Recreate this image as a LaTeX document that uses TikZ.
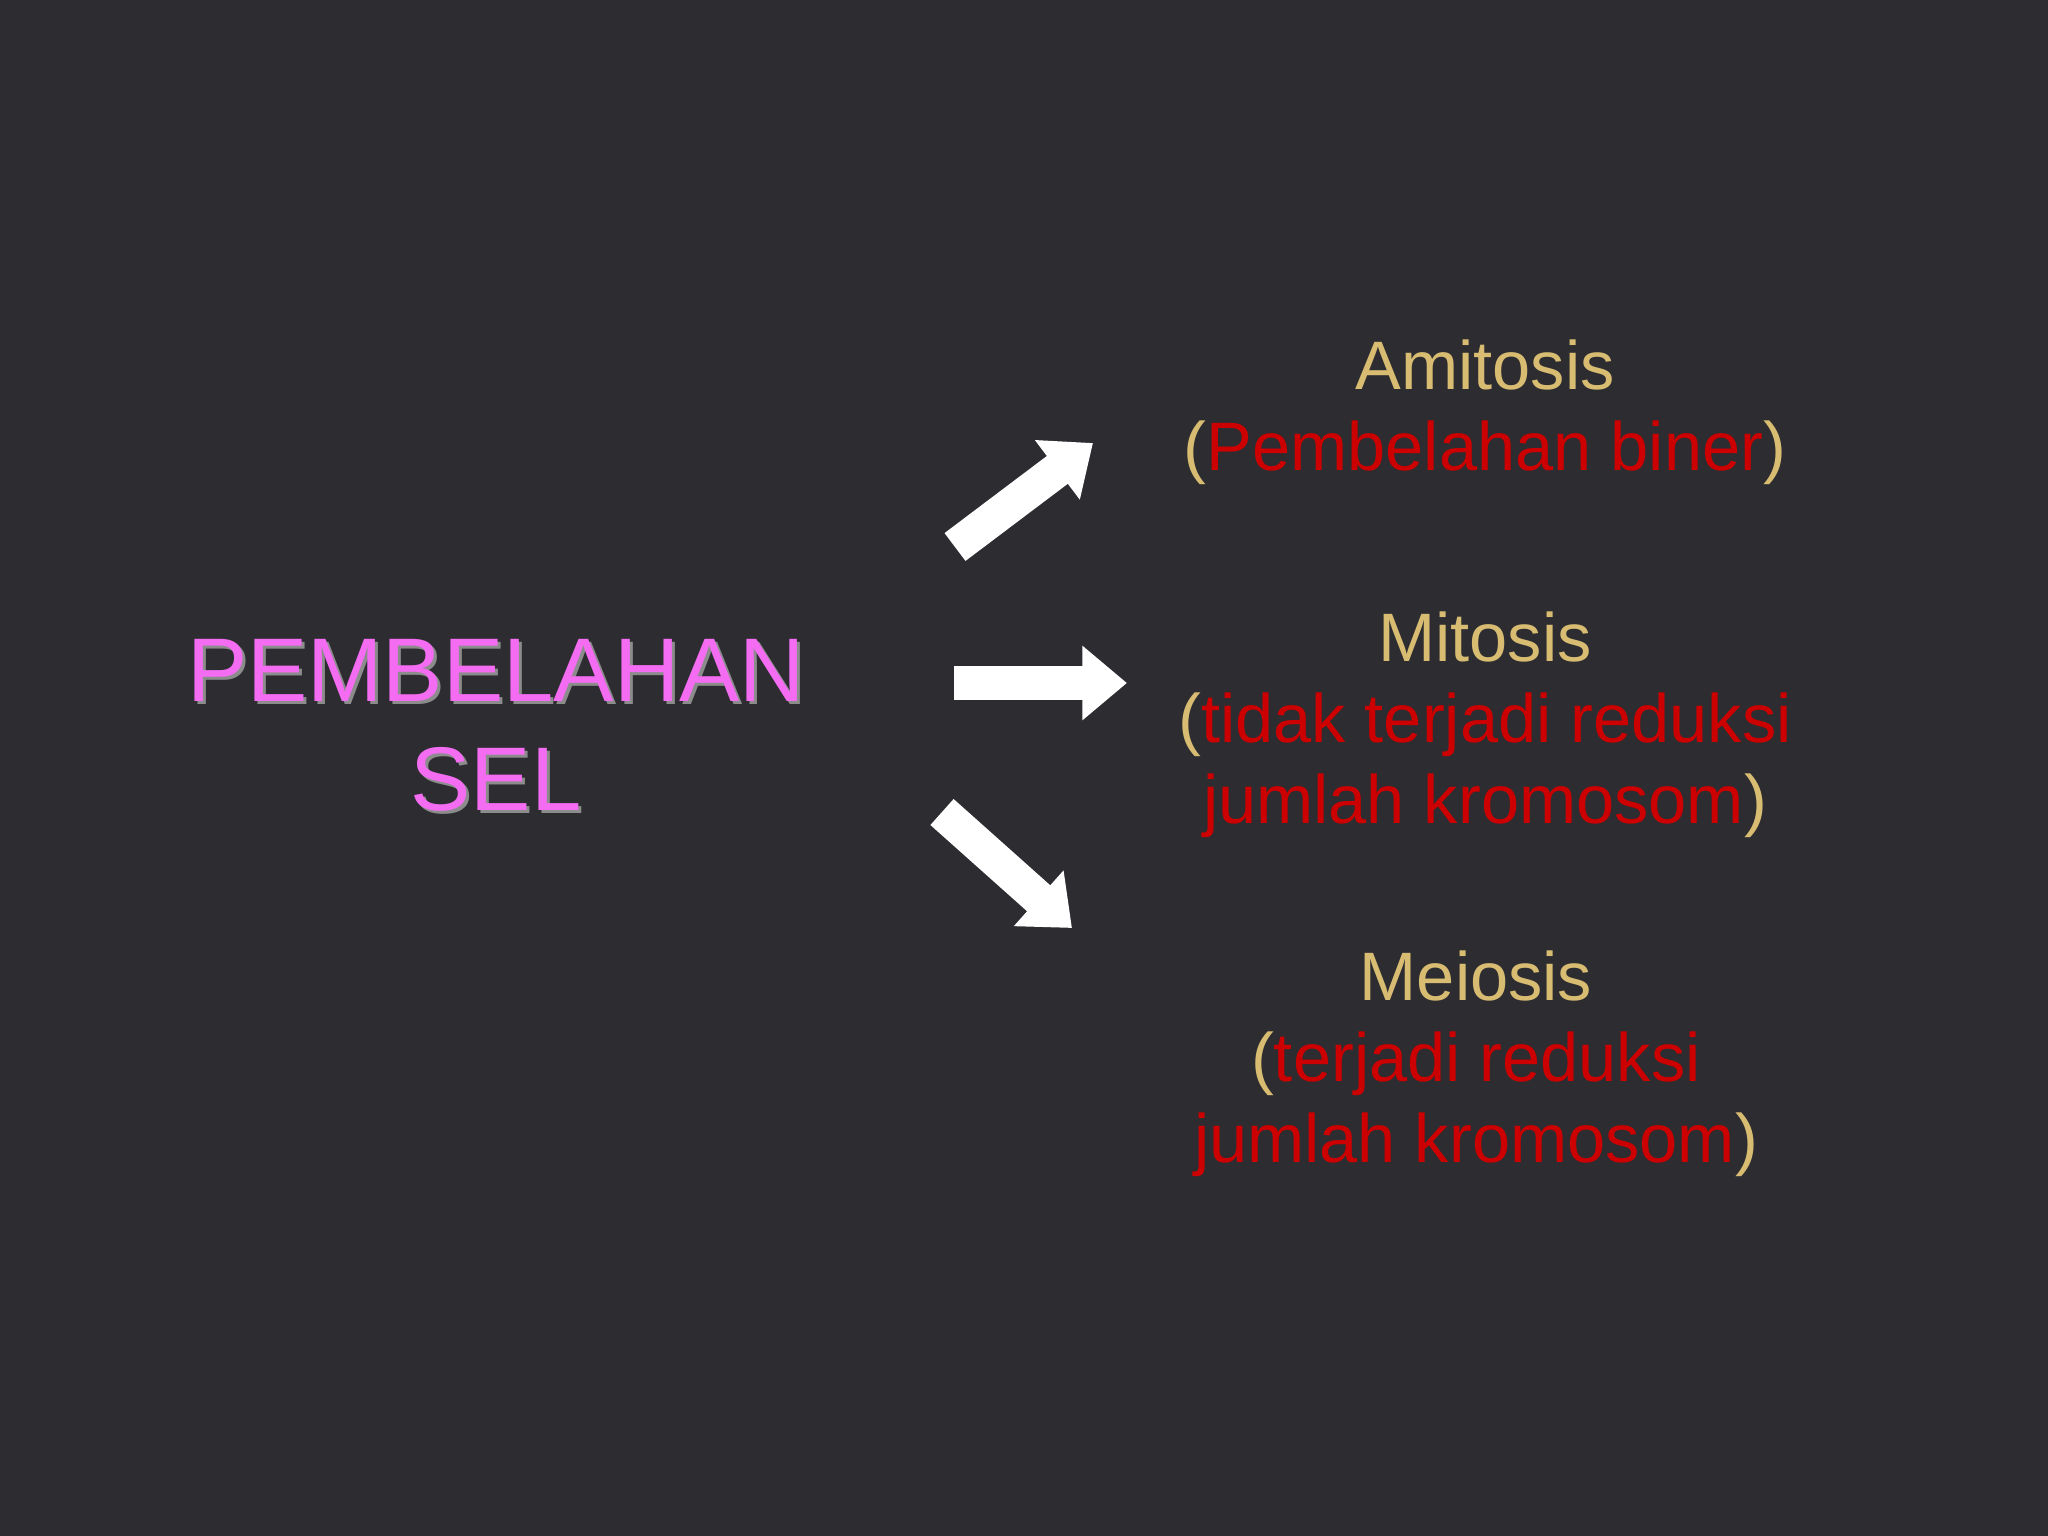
\documentclass[tikz,border=0pt]{standalone}
\usepackage{fontspec}
\setmainfont{Liberation Sans}
\usetikzlibrary{arrows.meta}
\definecolor{bgfill}{HTML}{2C2C31}
\definecolor{titlepink}{HTML}{F46CF2}
\definecolor{titleshadow}{HTML}{8C8C8C}
\definecolor{gold}{HTML}{D8BC72}
\definecolor{deepred}{HTML}{CC0000}
\newcommand{\gld}[1]{\textcolor{gold}{#1}}

\begin{document}
\begin{tikzpicture}[x=0.01cm, y=-0.01cm,
    title/.style={align=center, anchor=base, inner sep=0pt,
      font=\fontsize{25.7}{30.9}\selectfont},
    item/.style={align=center, anchor=base, inner sep=0pt, text=deepred,
      font=\fontsize{19.5}{23}\selectfont},
    bigarrow/.style={white, line width=9.9pt,
      -{Triangle[length=12.7pt, width=20.4pt]}}]
  \fill[bgfill] (0,0) rectangle (2048,1536);
  \useasboundingbox (0,0) rectangle (2048,1536);

  % left title (anchored at the last line)
  \node[title, text=titleshadow] (titleshadow) at (499,813) {PEMBELAHAN\\SEL};
  \node[title, text=titlepink] (title) at (496,810) {PEMBELAHAN\\SEL};

  % the three kinds
  \node[item] (amitosis) at (1485,470)
    {\gld{Amitosis}\\\gld{(}Pembelahan biner\gld{)}};
  \node[item] (mitosis) at (1485,823)
    {\gld{Mitosis}\\\gld{(}tidak terjadi reduksi\\jumlah kromosom\gld{)}};
  \node[item] (meiosis) at (1476,1162)
    {\gld{Meiosis}\\\gld{(}terjadi reduksi\\jumlah kromosom\gld{)}};

  % arrows
  \coordinate (upfrom) at (955,547);
  \coordinate (upto) at (1093,443);
  \coordinate (midfrom) at (954,683);
  \coordinate (midto) at (1127,683);
  \coordinate (downfrom) at (942,812);
  \coordinate (downto) at (1072,928);

  \draw[bigarrow] (upfrom) -- (upto);
  \draw[bigarrow] (midfrom) -- (midto);
  \draw[bigarrow] (downfrom) -- (downto);
\end{tikzpicture}
\end{document}
